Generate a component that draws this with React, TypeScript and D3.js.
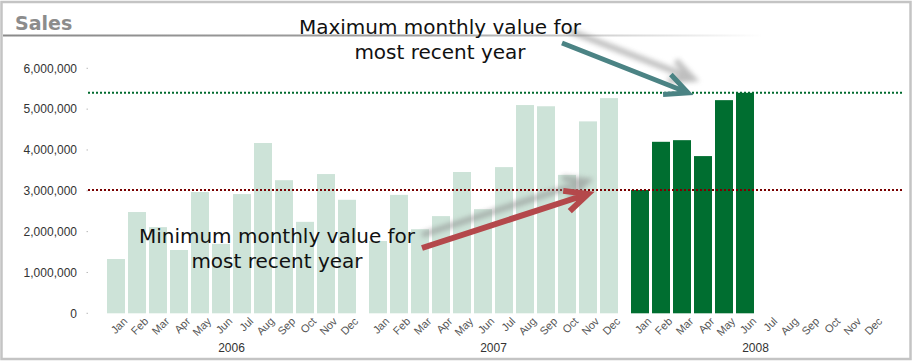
import { useEffect, useRef } from "react";
import * as d3 from "d3";

const years = ["2006", "2007", "2008"];
const months = ["Jan", "Feb", "Mar", "Apr", "May", "Jun", "Jul", "Aug", "Sep", "Oct", "Nov", "Dec"];
const sales2006 = [1330000, 2480000, 2110000, 1550000, 2970000, 1700000, 2920000, 4170000, 3260000, 2240000, 3410000, 2780000];
const sales2007 = [1770000, 2900000, 2060000, 2380000, 3460000, 2550000, 3580000, 5100000, 5070000, 3390000, 4700000, 5270000];
const sales2008 = [3020000, 4200000, 4240000, 3850000, 5220000, 5400000];
const yTicks = [0, 1000000, 2000000, 3000000, 4000000, 5000000, 6000000];
const maxText = ["Maximum monthly value for", "most recent year"];
const minText = ["Minimum monthly value for", "most recent year"];

function App() {
  const svgRef = useRef(null);

  useEffect(() => {
    const W = 916;
    const H = 363;
    const svg = d3.select(svgRef.current);
    svg.selectAll("*").remove();
    svg.attr("width", W).attr("height", H);

    const defs = svg.append("defs");
    const grad = defs
      .append("linearGradient")
      .attr("id", "hdr")
      .attr("x1", "0%")
      .attr("x2", "100%");
    grad.append("stop").attr("offset", "0%").attr("stop-color", "#8a8a8a");
    grad.append("stop").attr("offset", "55%").attr("stop-color", "#a0a0a0");
    grad.append("stop").attr("offset", "100%").attr("stop-color", "#ffffff");
    defs
      .append("filter")
      .attr("id", "blur")
      .attr("x", "-20%")
      .attr("y", "-20%")
      .attr("width", "140%")
      .attr("height", "140%")
      .append("feGaussianBlur")
      .attr("stdDeviation", 2.5);

    // frame + header
    svg
      .append("rect")
      .attr("x", 1.5)
      .attr("y", 2)
      .attr("width", 909)
      .attr("height", 357)
      .attr("fill", "white")
      .attr("stroke", "#c4c4c4")
      .attr("stroke-width", 2.5);
    svg
      .append("rect")
      .attr("x", 3)
      .attr("y", 34.5)
      .attr("width", 760)
      .attr("height", 2)
      .attr("fill", "url(#hdr)");
    svg
      .append("text")
      .attr("x", 15)
      .attr("y", 30)
      .attr("font-family", "DejaVu Sans, Verdana, sans-serif")
      .attr("font-weight", "bold")
      .attr("font-size", 19)
      .attr("fill", "#8c8c8c")
      .text("Sales");

    const y = d3.scaleLinear().domain([0, 6000000]).range([313.3, 68.3]);
    const xYear = d3.scaleBand().domain(years).range([105.5, 881.5]).paddingInner(0.0382);
    const xMonth = d3
      .scaleBand()
      .domain(months)
      .range([0, xYear.bandwidth()])
      .paddingInner(0.143)
      .paddingOuter(0.0715);

    const fmt = d3.format(",");
    const axisFont = "Liberation Sans, Arial, sans-serif";

    // y axis
    const yAxis = svg.append("g");
    yTicks.forEach((t) => {
      yAxis
        .append("text")
        .attr("x", 77)
        .attr("y", y(t))
        .attr("dy", "0.35em")
        .attr("text-anchor", "end")
        .attr("font-family", axisFont)
        .attr("font-size", 12)
        .attr("fill", "#333")
        .text(fmt(t));
      yAxis
        .append("rect")
        .attr("x", 86.5)
        .attr("y", y(t) - 0.5)
        .attr("width", 1.5)
        .attr("height", 1)
        .attr("fill", "#bbb");
    });

    // bars
    const series = [
      { year: "2006", values: sales2006, color: "#cde3d8" },
      { year: "2007", values: sales2007, color: "#cde3d8" },
      { year: "2008", values: sales2008, color: "#006e30" },
    ];
    series.forEach((s) => {
      const g = svg.append("g").attr("transform", `translate(${xYear(s.year)},0)`);
      g.selectAll("rect")
        .data(s.values)
        .join("rect")
        .attr("x", (d, i) => xMonth(months[i]))
        .attr("y", (d) => y(d))
        .attr("width", xMonth.bandwidth())
        .attr("height", (d) => y(0) - y(d))
        .attr("fill", s.color);
    });

    // x axis labels
    years.forEach((yr) => {
      const x0 = xYear(yr);
      months.forEach((m) => {
        const cx = x0 + xMonth(m) + xMonth.bandwidth() / 2 + 12;
        svg
          .append("text")
          .attr("x", cx)
          .attr("y", 322)
          .attr("text-anchor", "end")
          .attr("transform", `rotate(-45,${cx},322)`)
          .attr("font-family", axisFont)
          .attr("font-size", 11)
          .attr("fill", "#555")
          .text(m);
      });
      svg
        .append("text")
        .attr("x", x0 + xYear.bandwidth() / 2)
        .attr("y", 352)
        .attr("text-anchor", "middle")
        .attr("font-family", axisFont)
        .attr("font-size", 12)
        .attr("fill", "#333")
        .text(yr);
    });

    // reference lines for most recent year
    const maxVal = d3.max(sales2008);
    const minVal = d3.min(sales2008);
    svg
      .append("line")
      .attr("x1", 88)
      .attr("x2", 903)
      .attr("y1", y(maxVal))
      .attr("y2", y(maxVal))
      .attr("stroke", "#006a2e")
      .attr("stroke-width", 2)
      .attr("stroke-dasharray", "2,2");
    svg
      .append("line")
      .attr("x1", 88)
      .attr("x2", 903)
      .attr("y1", y(minVal))
      .attr("y2", y(minVal))
      .attr("stroke", "#7a0000")
      .attr("stroke-width", 2)
      .attr("stroke-dasharray", "2,2");

    // arrows
    const arrow = (x1, y1, x2, y2, color, width, shadow) => {
      const a = Math.atan2(y1 - y2, x1 - x2);
      const len = 25;
      const spread = 0.44;
      const p = d3.path();
      p.moveTo(x1, y1);
      p.lineTo(x2, y2);
      p.moveTo(x2 + len * Math.cos(a + spread), y2 + len * Math.sin(a + spread));
      p.lineTo(x2, y2);
      p.lineTo(x2 + len * Math.cos(a - spread), y2 + len * Math.sin(a - spread));
      const el = svg
        .append("path")
        .attr("d", p.toString())
        .attr("fill", "none")
        .attr("stroke", color)
        .attr("stroke-width", width)
        .attr("stroke-linejoin", "miter");
      if (shadow) el.attr("filter", "url(#blur)").attr("opacity", 0.55);
    };

    const maxTipY = y(maxVal);
    arrow(570, 31, 693, maxTipY - 14, "#8a8a8a", 6, true);
    arrow(562, 43, 688, maxTipY, "#4b8384", 5, false);
    arrow(422, 235, 587, 181, "#8a8a8a", 6, true);
    arrow(422, 248, 588, y(minVal) + 4, "#b4484b", 6, false);

    // annotation text
    const annot = (lines, cx, y0) => {
      lines.forEach((l, i) => {
        svg
          .append("text")
          .attr("x", cx)
          .attr("y", y0 + i * 25)
          .attr("text-anchor", "middle")
          .attr("font-family", "DejaVu Sans, Verdana, sans-serif")
          .attr("font-size", 20)
          .attr("fill", "#111")
          .text(l);
      });
    };
    annot(maxText, 440, 34);
    annot(minText, 277, 243);
  }, []);

  return (
    <div style={{ position: "absolute", left: 0, top: 0 }}>
      <svg ref={svgRef}></svg>
    </div>
  );
}

export default App;
